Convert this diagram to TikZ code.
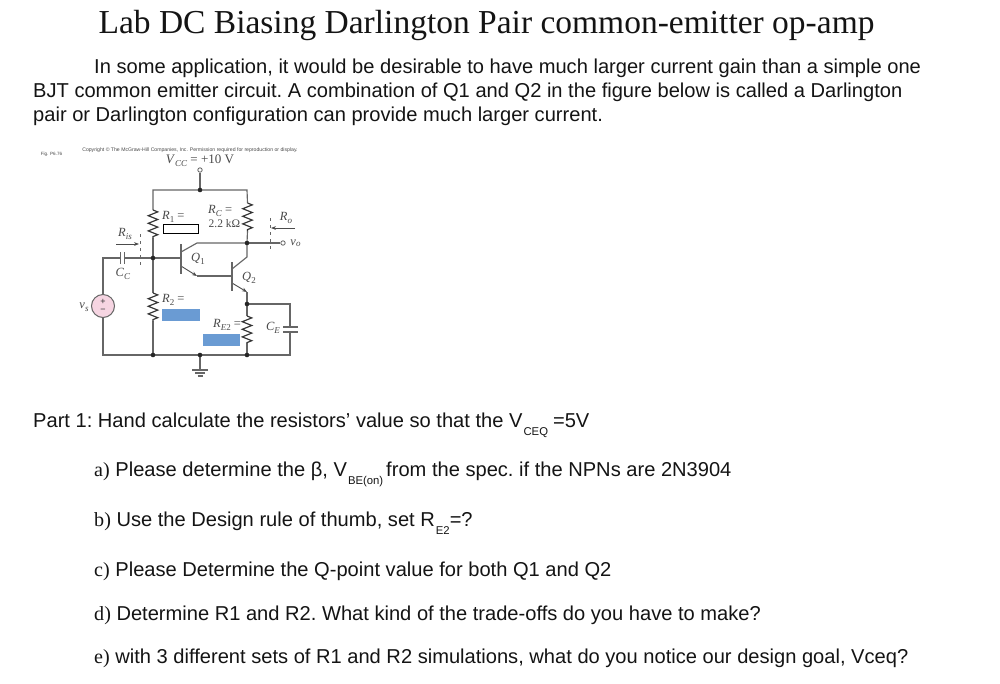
\documentclass[tikz,border=0pt]{standalone}
\usepackage{fontspec}
\setmainfont{Liberation Sans}
\newfontfamily\serifF{Liberation Serif}
\usetikzlibrary{decorations.pathmorphing,arrows.meta}
\pgfdeclarelayer{wires}
\pgfsetlayers{wires,main}
\definecolor{wire}{HTML}{666666}
\definecolor{txt}{HTML}{141414}
\definecolor{lab}{HTML}{4A4A4A}
\definecolor{blueR}{HTML}{6A9BD3}
\definecolor{srcfill}{HTML}{F6D5E2}
\tikzset{
 wirel/.style={draw=wire,line width=1.15pt},
 bar/.style={draw=wire,line width=1.5pt},
 res/.style={draw=black!80,line width=1.15pt,decorate,decoration={zigzag,segment length=7.6pt,amplitude=4.8pt}},
 dot/.style={circle,fill=black!85,inner sep=0pt,minimum size=4.6pt},
 term/.style={circle,draw=wire,fill=white,line width=0.8pt,inner sep=0pt,minimum size=4.4pt},
 body/.style={anchor=base west,inner sep=0pt,text=txt,font=\frenchspacing\fontsize{20.1}{21}\selectfont},
 clab/.style={inner sep=0pt,text=lab,font=\serifF\fontsize{12.5}{13}\selectfont},
 blue/.style={fill=blueR,draw=none},
 emarrow/.style={-{Stealth[length=5pt,width=3.8pt]},draw=black!70,line width=0.9pt},
 dashl/.style={draw=black!60,line width=0.8pt,dash pattern=on 3pt off 4pt},
}
\newcommand{\subt}[1]{\hspace{1pt}\raisebox{-8pt}{\fontsize{11.3}{12}\selectfont #1}}
\newcommand{\ser}[1]{{\serifF #1}}
\newcommand{\ci}[2]{\textit{#1}\raisebox{-2.5pt}{\fontsize{9}{9}\selectfont #2}}
\begin{document}
\begin{tikzpicture}[x=1pt,y=-1pt]
\useasboundingbox (0,0) rectangle (1000,683);
\begin{pgfonlayer}{wires}
\fill[white] (0,0) rectangle (1000,683);
\end{pgfonlayer}
% text
\node[anchor=base,inner sep=0pt,text=txt,font=\serifF\fontsize{33.5}{34}\selectfont] (title) at (486.5,33) {Lab DC Biasing Darlington Pair common-emitter op-amp};
\node[body] (l1) at (94,73) {In some application, it would be desirable to have much larger current gain than a simple one};
\node[body] (l2) at (33,97) {BJT common emitter circuit. A combination of Q1 and Q2 in the figure below is called a Darlington};
\node[body] (l3) at (33,121) {pair or Darlington configuration can provide much larger current.};
\node[body] (p1) at (33,427) {Part 1: Hand calculate the resistors’ value so that the V\subt{CEQ}\hspace{5pt}=5V};
\node[body] (a) at (94,476) {\ser{a)} Please determine the β, V\subt{BE(on)}\hspace{3pt}from the spec. if the NPNs are 2N3904};
\node[body] (b) at (94,526) {\ser{b)} Use the Design rule of thumb, set R\subt{E2}=?};
\node[body] (c) at (94,576) {\ser{c)} Please Determine the Q-point value for both Q1 and Q2};
\node[body] (d) at (94,620) {\ser{d)} Determine R1 and R2. What kind of the trade-offs do you have to make?};
\node[body] (e) at (94,663) {\ser{e)} with 3 different sets of R1 and R2 simulations, what do you notice our design goal, Vceq?};
\node[anchor=center,inner sep=0pt,text=lab,font=\fontsize{4.6}{5}\selectfont] (fig) at (51.5,154) {Fig. P6.76};
\node[anchor=center,inner sep=0pt,text=lab,font=\fontsize{5.15}{6}\selectfont] (copy) at (190,150.5) {Copyright © The McGraw-Hill Companies, Inc. Permission required for reproduction or display.};
% coordinates
\node[term] (vcc) at (200,170) {};
\node[dot] (jt) at (200,190) {};
\coordinate (tl) at (153,190);
\coordinate (tr) at (247,190);
\coordinate (r1t) at (153,210);
\coordinate (r1b) at (153,238);
\node[dot] (jb) at (153,258) {};
\coordinate (rct) at (247.5,203);
\coordinate (rcb) at (247.5,231);
\node[dot] (jo) at (247,243) {};
\node[term] (vo) at (283,243) {};
\coordinate (q1c0) at (181,252);
\coordinate (q1c) at (197,243);
\coordinate (q1b) at (181,258);
\coordinate (q1e0) at (181,266);
\coordinate (q1e) at (197,276);
\coordinate (q2b) at (232,276);
\coordinate (q2c0) at (232,269);
\coordinate (q2c) at (247,257);
\coordinate (q2e0) at (232,283);
\coordinate (q2e) at (247,292);
\node[dot] (je) at (247,304) {};
\coordinate (rut) at (247,316);
\coordinate (rub) at (247,343);
\coordinate (ceT) at (290,304);
\coordinate (ceA) at (290,327);
\coordinate (ceB) at (290,332);
\coordinate (ceD) at (290,355);
\coordinate (r2t) at (153,293);
\coordinate (r2b) at (153,321);
\node[dot] (b1) at (153,355) {};
\node[dot] (b2) at (200,355) {};
\node[dot] (b3) at (247,355) {};
\coordinate (bl) at (103,355);
\coordinate (cl) at (103,258);
\coordinate (c1) at (120.5,258);
\coordinate (c2) at (124.5,258);
\coordinate (g0) at (200,370);
\node[circle,draw=wire,fill=srcfill,line width=1pt,minimum size=23pt,inner sep=0pt] (vs) at (103,306) {};
\node[inner sep=0pt,font=\fontsize{9}{9}\selectfont,text=black!80] (pl) at (103,302) {+};
\node[inner sep=0pt,font=\fontsize{9}{9}\selectfont,text=black!80] (mi) at (103,311) {\textminus};
% wires
\begin{pgfonlayer}{wires}
\draw[wirel] (vcc) -- (jt.center);
\draw[wirel] (r1t) -- (tl) -- (tr) -- (rct);
\draw[wirel] (r1b) -- (jb.center);
\draw[wirel] (rcb) -- (jo.center);
\draw[wirel] (jo.center) -- (vo);
\draw[wirel] (q1c0) -- (q1c) -- (jo.center);
\draw[wirel] (c2) -- (q1b);
\draw[wirel] (vs) -- (cl) -- (c1);
\draw[wirel] (vs) -- (bl) -- (ceD) -- (ceB);
\draw[wirel] (jb.center) -- (r2t);
\draw[wirel] (r2b) -- (b1.center);
\draw[wirel] (q1e) -- (q2b);
\draw[wirel] (jo.center) -- (q2c) -- (q2c0);
\draw[wirel] (q2e) -- (je.center) -- (rut);
\draw[wirel] (rub) -- (b3.center);
\draw[wirel] (je.center) -- (ceT) -- (ceA);
\draw[wirel] (b2.center) -- (g0);
\end{pgfonlayer}
\draw[emarrow] (q1e0) -- (q1e);
\draw[emarrow] (q2e0) -- (q2e);
\draw[bar] (181,244) -- (181,274);
\draw[bar] (232,262) -- (232,291);
\draw[bar] (120.5,252) -- (120.5,264);
\draw[bar] (124.5,252) -- (124.5,264);
\draw[bar] (283,327) -- (298,327);
\draw[bar] (283,332) -- (298,332);
% ground
\draw[wirel] (192,370) -- (208,370);
\draw[wirel] (195,373) -- (205,373);
\draw[wirel] (197.5,376) -- (202.5,376);
% resistors
\draw[res] (r1t) -- (r1b);
\draw[res] (rct) -- (rcb);
\draw[res] (r2t) -- (r2b);
\draw[res] (rut) -- (rub);
% dashed
\coordinate (ds1) at (140,234); \coordinate (ds2) at (140,267);
\coordinate (ds3) at (270,218); \coordinate (ds4) at (270,252);
\draw[dashl] (ds1) -- (ds2);
\draw[dashl] (ds3) -- (ds4);
\coordinate (aa1) at (116,244); \coordinate (aa2) at (139,244);
\coordinate (ab1) at (295,228); \coordinate (ab2) at (271,228);
\draw[emarrow] (aa1) -- (aa2);
\draw[emarrow] (ab1) -- (ab2);
% boxes
\node[draw=black,line width=1.3pt,fill=white,minimum width=35pt,minimum height=9.5pt,inner sep=0pt] (r1box) at (181,229) {};
\node[blue,minimum width=38pt,minimum height=12pt,inner sep=0pt] (r2box) at (181,315) {};
\node[blue,minimum width=37pt,minimum height=12pt,inner sep=0pt] (rebox) at (221.5,340) {};
% labels
\node[clab,font=\serifF\fontsize{13}{13}\selectfont] (lvcc) at (200,160.5) {\textit{V}\raisebox{-2.5pt}{\fontsize{9}{9}\selectfont\textit{CC}} = +10 V};
\node[clab,anchor=west] (lr1) at (162,217) {\ci{R}{1} =};
\node[clab,anchor=west] (lrc) at (208,211) {\textit{R}\raisebox{-2.5pt}{\fontsize{9}{9}\selectfont\textit{C}} =};
\node[clab,anchor=west,font=\serifF\fontsize{11.5}{12}\selectfont] (lrc2) at (208.5,224) {2.2 kΩ};
\node[clab] (lro) at (286,218) {\textit{R}\raisebox{-2.5pt}{\fontsize{9}{9}\selectfont\textit{o}}};
\node[clab] (lris) at (125,234) {\textit{R}\raisebox{-2.5pt}{\fontsize{9}{9}\selectfont\textit{is}}};
\node[clab] (lq1) at (198,259) {\ci{Q}{1}};
\node[clab] (lq2) at (249,278) {\ci{Q}{2}};
\node[clab] (lcc) at (123,274) {\textit{C}\raisebox{-2.5pt}{\fontsize{9}{9}\selectfont\textit{C}}};
\node[clab] (lvs) at (84,307) {\textit{v}\raisebox{-2.5pt}{\fontsize{9}{9}\selectfont\textit{s}}};
\node[clab,anchor=west] (lr2) at (162,300) {\ci{R}{2} =};
\node[clab,anchor=west] (lre) at (213,325) {\textit{R}\raisebox{-2.5pt}{\fontsize{9}{9}\selectfont\textit{E}2} =};
\node[clab] (lce) at (273,328) {\textit{C}\raisebox{-2.5pt}{\fontsize{9}{9}\selectfont\textit{E}}};
\node[clab] (lvo) at (295.5,243) {\textit{v}\raisebox{-1.5pt}{\fontsize{9}{9}\selectfont\textit{o}}};
\end{tikzpicture}
\end{document}
